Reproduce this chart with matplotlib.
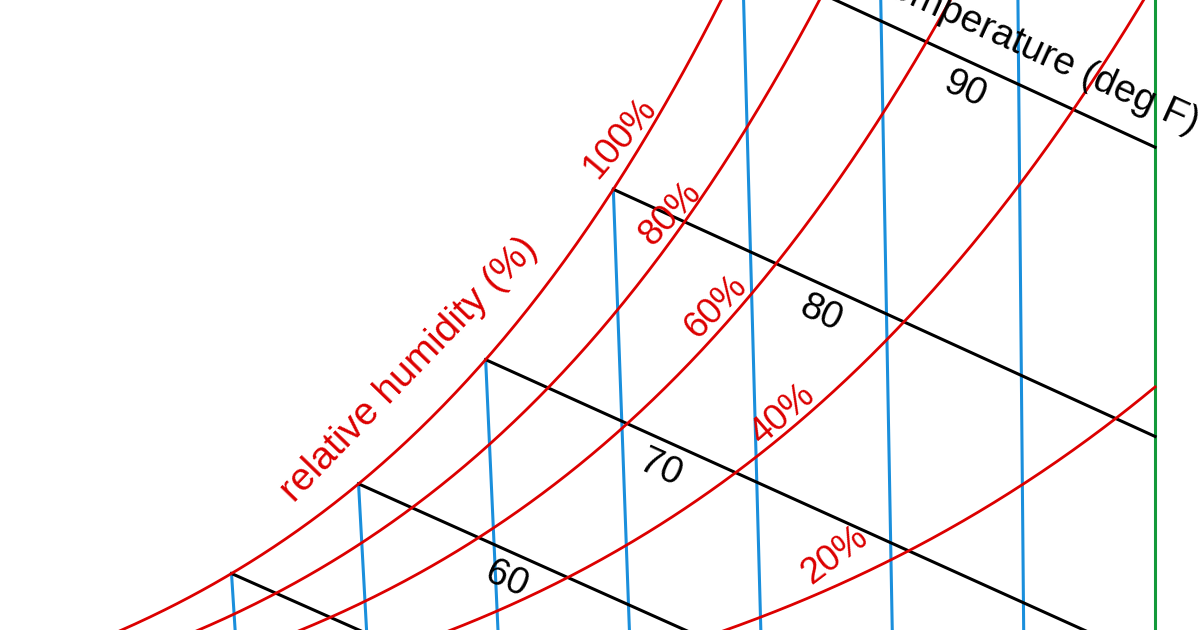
import numpy as np
import matplotlib.pyplot as plt

plt.rcParams['font.family'] = ['Liberation Sans', 'DejaVu Sans']

# chart values
rh_levels = [20, 40, 60, 80, 100]            # relative humidity curves (%)
rh_labels = ['20%', '40%', '60%', '80%', '100%']
wb_temps = [40, 50, 60, 70, 80, 90]          # wet bulb lines (deg F)
wb_labels = ['60', '70', '80', '90']
db_temps = [40, 50, 60, 70, 80, 90, 100, 110]  # dry bulb lines (deg F)
db_max = 120                                 # right border of the chart

# where the labels sit (dry bulb on the curve) and how far they are pushed off it (pixels)
rh_label_t = [100.7, 94.4, 89.3, 85.8, 82.6]
rh_label_off = [(-65, 0), (-31, -5), (-27, -3), (-22, -3), (-27, -2)]
rh_label_rot = [37, 41, 46, 47, 50]
wb_label_t = [71.7, 83.7, 96.0, 106.9]

P_ATM = 1013.25  # hPa
RED = '#dc0000'
BLUE = '#1a8fdc'
GREEN = '#12993a'


def sat_pressure(t_f):
    t_c = (np.asarray(t_f, dtype=float) - 32) / 1.8
    return 6.1094 * np.exp(17.625 * t_c / (t_c + 243.04))


def humidity_ratio(t_f, rh):
    pw = rh / 100 * sat_pressure(t_f)
    return 0.622 * pw / (P_ATM - pw)


def wet_bulb_ratio(t_f, t_wb):
    ws = humidity_ratio(t_wb, 100)
    return ((1093 - 0.556 * t_wb) * ws - 0.240 * (t_f - t_wb)) / (1093 + 0.444 * t_f - t_wb)


def chart_x(t_f, w):
    # enthalpy-skewed dry bulb axis, the 120 F line is vertical
    return t_f + (0.444 / 0.240) * w * (t_f - db_max)


fig = plt.figure(figsize=(12, 6.3), dpi=100)
ax = fig.add_axes([0, 0, 1, 1])
ax.set_xlim(31.22, 123.45)
ax.set_ylim(0.0054759, 0.029367)
ax.axis('off')

# relative humidity curves
t = np.linspace(25, db_max, 400)
for rh in rh_levels:
    w = humidity_ratio(t, rh)
    ax.plot(chart_x(t, w), w, color=RED, lw=2.0, zorder=3)

# wet bulb lines
for twb in wb_temps:
    tt = np.linspace(twb, db_max, 200)
    w = wet_bulb_ratio(tt, twb)
    keep = w >= 0
    ax.plot(chart_x(tt[keep], w[keep]), w[keep], color='black', lw=2.2, zorder=2)

# dry bulb lines
for tdb in db_temps:
    w = np.array([0, humidity_ratio(tdb, 100)])
    ax.plot(chart_x(tdb, w), w, color=BLUE, lw=2.2, zorder=1)
w = np.array([0, humidity_ratio(db_max, 100)])
ax.plot(chart_x(db_max, w), w, color=GREEN, lw=2.2, zorder=1)

# RH labels
for rh, lab, tl, off, rot in zip(rh_levels, rh_labels, rh_label_t, rh_label_off, rh_label_rot):
    wl = humidity_ratio(tl, rh)
    ax.annotate(lab, xy=(chart_x(tl, wl), wl), xytext=off, textcoords='offset pixels',
                color=RED, fontsize=26.5, rotation=rot, rotation_mode='anchor',
                ha='center', va='center')

# wet bulb labels
for twb, lab, tl in zip(wb_temps[2:], wb_labels, wb_label_t):
    wl = wet_bulb_ratio(tl, twb)
    ax.annotate(lab, xy=(chart_x(tl, wl), wl), xytext=(-11, -25), textcoords='offset pixels',
                color='black', fontsize=27.5, rotation=-24.5, rotation_mode='anchor',
                ha='center', va='center')

# axis titles
t_sat = 69.3
w_sat = humidity_ratio(t_sat, 100)
ax.annotate('relative humidity (%)', xy=(chart_x(t_sat, w_sat), w_sat), xytext=(-67, 0),
            textcoords='offset pixels', color=RED, fontsize=28, rotation=46,
            rotation_mode='anchor', ha='center', va='center')

w_end = wet_bulb_ratio(db_max, 90)
ax.annotate('wet bulb temperature (deg F)', xy=(chart_x(db_max, w_end), w_end), xytext=(38, 14),
            textcoords='offset pixels', color='black', fontsize=28, rotation=-24.5,
            rotation_mode='anchor', ha='right', va='baseline', annotation_clip=False)

fig.savefig('out.png', dpi=100)
